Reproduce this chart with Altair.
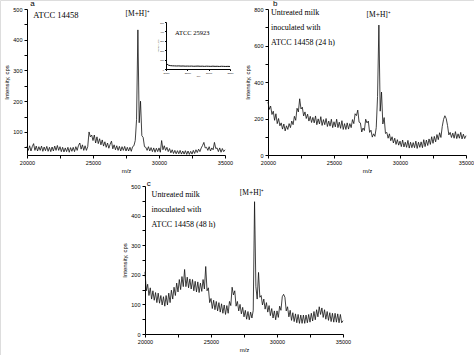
import altair as alt
import pandas as pd

# ---------------- data ----------------
MZ = list(range(20000, 35001, 100))

SPEC_A = [54, 40, 55, 38, 52, 62, 40, 54, 38, 52,
          40, 54, 37, 51, 39, 53, 37, 50, 36, 51,
          38, 54, 40, 56, 40, 52, 36, 50, 35, 48,
          36, 50, 34, 49, 37, 50, 36, 52, 40, 56,
          64, 44, 58, 40, 55, 40, 52, 100, 84, 90,
          72, 90, 64, 84, 62, 78, 58, 74, 54, 68,
          50, 64, 47, 60, 70, 45, 58, 42, 55, 40,
          53, 38, 52, 40, 53, 38, 50, 38, 50, 37,
          52, 55, 72, 140, 432, 130, 200, 88, 82, 52,
          50, 40, 52, 38, 49, 36, 48, 34, 47, 36,
          48, 34, 72, 42, 55, 40, 50, 36, 46, 32,
          42, 30, 40, 29, 39, 29, 40, 28, 38, 28,
          39, 27, 38, 27, 37, 28, 40, 30, 42, 33,
          44, 36, 48, 56, 66, 48, 50, 40, 52, 38,
          48, 42, 66, 46, 48, 36, 48, 34, 46, 36, 42]

SPEC_B = [290, 250, 268, 222, 240, 190, 226, 172, 200, 160,
          176, 142, 170, 132, 160, 140, 172, 150, 186, 166,
          212, 190, 256, 236, 308, 252, 262, 214, 236, 200,
          224, 186, 212, 178, 206, 176, 214, 166, 198, 170,
          210, 162, 194, 166, 200, 156, 186, 158, 196, 150,
          182, 154, 196, 150, 180, 146, 188, 140, 172, 140,
          176, 142, 172, 150, 194, 172, 226, 216, 246, 180,
          176, 126, 148, 134, 196, 176, 186, 124, 136, 98,
          116, 102, 150, 320, 712, 240, 345, 170, 205, 118,
          124, 92, 116, 78, 100, 66, 92, 58, 84, 54,
          76, 46, 82, 44, 70, 42, 80, 38, 70, 40,
          68, 40, 76, 36, 70, 42, 72, 40, 84, 46,
          82, 52, 88, 58, 100, 64, 102, 72, 112, 84,
          122, 96, 156, 195, 215, 200, 162, 110, 124, 96,
          120, 92, 128, 90, 116, 92, 124, 88, 114, 90, 106]

SPEC_C = [210, 146, 168, 130, 156, 118, 146, 114, 140, 106,
          138, 104, 130, 98, 126, 94, 130, 98, 138, 106,
          148, 118, 158, 130, 172, 142, 184, 150, 194, 160,
          218, 160, 192, 156, 186, 152, 184, 146, 178, 142,
          176, 140, 172, 144, 184, 152, 228, 146, 156, 106,
          120, 86, 114, 82, 110, 78, 106, 74, 102, 70,
          98, 66, 96, 70, 110, 96, 158, 132, 146, 94,
          110, 78, 100, 68, 90, 58, 80, 50, 76, 48,
          74, 54, 80, 447, 160, 118, 208, 124, 130, 98,
          118, 84, 106, 74, 96, 62, 86, 54, 78, 48,
          78, 56, 94, 80, 126, 134, 124, 78, 92, 58,
          80, 46, 72, 42, 68, 38, 66, 36, 64, 36,
          64, 36, 64, 38, 66, 40, 70, 44, 76, 48,
          82, 58, 92, 66, 88, 56, 82, 50, 76, 46,
          72, 42, 70, 40, 70, 40, 68, 38, 66, 38, 45]

INSET_MZ = list(range(20000, 35001, 500))
INSET_VAL = [64, 42, 36, 34, 33, 32, 33, 31, 32, 30, 31, 30, 31, 29, 30, 31,
             29, 30, 28, 30, 29, 28, 30, 28, 29, 27, 29, 28, 27, 28, 27]

# annotations (label, m/z, intensity)
A_LETTER = ("a", 20250, 515)
A_LEFT = [("ATCC 14458", 20480, 480)]
A_PEAK = ("[M+H]\u207a", 28380, 484)
INSET_LEFT = [("ATCC 25923", 22100, 383)]

B_LETTER = ("b", 20380, 827)
B_LEFT = [("Untreated milk", 20230, 778), ("inoculated with", 20230, 696),
          ("ATCC 14458 (24 h)", 20230, 614)]
B_PEAK = ("[M+H]\u207a", 28386, 767)

C_LETTER = ("c", 20130, 507)
C_LEFT = [("Untreated milk", 20500, 470), ("inoculated with", 20500, 419),
          ("ATCC 14458 (48 h)", 20500, 368)]
C_PEAK = ("[M+H]\u207a", 28100, 476)

W, H = 474, 355
SANS = "Liberation Sans"
SERIF = "Liberation Serif"


def xaxis(offset, tick_step=2500, label_step=5000, size=5.5, title_size=6,
          tick_size=3, pad=2, tpad=2):
    vals = list(range(20000, 35001, tick_step))
    return alt.Axis(orient="bottom", offset=offset, values=vals, format="d",
                    labelExpr=f"datum.value % {label_step} == 0 ? datum.label : ''",
                    title="m/z", titleFont=SANS, titleFontSize=title_size,
                    titleFontWeight="normal", titleColor="black", titlePadding=tpad,
                    labelFont=SANS, labelFontSize=size, labelColor="black",
                    labelPadding=pad, labelOverlap=False, labelFlush=False,
                    tickSize=tick_size, tickColor="black", domainColor="black",
                    grid=False)


def yaxis(offset, vals, label_step, size=5.5, title_size=6, tick_size=3,
          pad=2, tpad=3):
    return alt.Axis(orient="left", offset=offset, values=vals, format="d",
                    labelExpr=f"datum.value % {label_step} == 0 ? datum.label : ''",
                    title="Intensity, cps", titleFont=SANS, titleFontSize=title_size,
                    titleFontWeight="normal", titleColor="black", titlePadding=tpad,
                    labelFont=SANS, labelFontSize=size, labelColor="black",
                    labelPadding=pad, labelOverlap=False, labelFlush=False,
                    tickSize=tick_size, tickColor="black", domainColor="black",
                    grid=False)


def panel(values, xdom, xrange, ydom, yrange, xax, yax, letter, left_texts,
          peak, text_size=8, mz=MZ, stroke=0.8):
    """Return a flat list of unit charts; each uses identical explicit scales."""
    def xs():
        return alt.Scale(domain=xdom, range=xrange, nice=False, zero=False)

    def ys():
        return alt.Scale(domain=ydom, range=yrange, nice=False, zero=False)

    df = pd.DataFrame({"mz": mz, "intensity": values})
    units = [alt.Chart(df).mark_line(color="#111111", strokeWidth=stroke).encode(
        x=alt.X("mz:Q", scale=xs(), axis=xax),
        y=alt.Y("intensity:Q", scale=ys(), axis=yax),
    )]

    def text_unit(rows, align, font, size):
        tdf = pd.DataFrame(rows, columns=["label", "mz", "intensity"])
        return alt.Chart(tdf).mark_text(
            align=align, baseline="middle", font=font, fontSize=size,
            color="black").encode(
            x=alt.X("mz:Q", scale=xs(), axis=None),
            y=alt.Y("intensity:Q", scale=ys(), axis=None),
            text="label:N")

    if left_texts:
        units.append(text_unit(left_texts, "left", SERIF, text_size))
    if peak:
        units.append(text_unit([peak], "center", SERIF, 7.5))
    if letter:
        units.append(text_unit([letter], "left", SANS, 8))
    return units


XD = [20000, 35000]

pa = panel(SPEC_A, XD, [27, 225], [25, 500], [155, 9],
           xaxis(155 - H), yaxis(-27, list(range(50, 501, 50)), 100),
           A_LETTER, A_LEFT, A_PEAK, text_size=8.5)

pin = panel(INSET_VAL, XD, [166, 230], [0, 500], [69, 22],
            xaxis(69 - H, tick_step=5000, size=2.2, title_size=2.2,
                  tick_size=1.5, pad=1, tpad=1),
            yaxis(-166, list(range(0, 501, 100)), 100, size=2.2,
                  title_size=2.2, tick_size=1.5, pad=1, tpad=1),
            None, INSET_LEFT, None, text_size=6.5, mz=INSET_MZ, stroke=1.0)

pb = panel(SPEC_B, XD, [268, 466], [0, 800], [155, 9],
           xaxis(155 - H), yaxis(-268, list(range(0, 801, 100)), 200),
           B_LETTER, B_LEFT, B_PEAK, text_size=8)

pc = panel(SPEC_C, XD, [145, 343], [0, 500], [334, 186],
           xaxis(334 - H), yaxis(-145, list(range(0, 501, 50)), 100),
           C_LETTER, C_LEFT, C_PEAK, text_size=8)

chart = alt.layer(*(pa + pin + pb + pc)).resolve_scale(
    x="independent", y="independent"
).resolve_axis(
    x="independent", y="independent"
).properties(
    width=W, height=H, autosize=alt.AutoSizeParams(type="none"), padding=0
).configure_view(stroke=None).configure(background="white")

chart.save("out.html", embed_options={"renderer": "svg", "actions": False})
